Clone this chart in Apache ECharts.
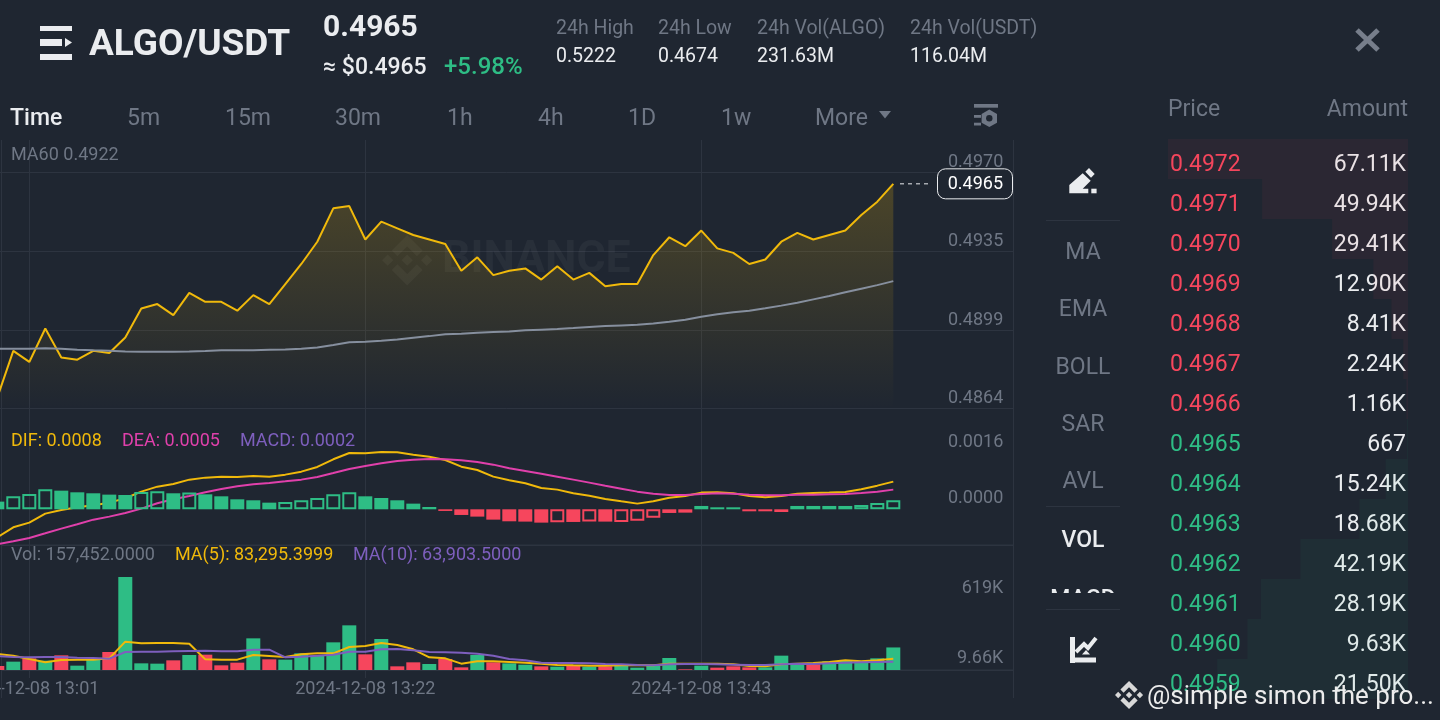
<!DOCTYPE html>
<html>
<head>
<meta charset="utf-8">
<title>ALGO/USDT</title>
<script src="https://cdn.jsdelivr.net/npm/echarts@6/dist/echarts.min.js"></script>
<style>
html, body { margin: 0; padding: 0; background: #1f2631; }
#main { width: 1440px; height: 720px; }
</style>
</head>
<body>
<div id="main"></div>
<script>
// one minute per point, first one is 12:59 and hangs off the left edge
const closePrice = [0.4869, 0.4890, 0.4885, 0.4900, 0.4887, 0.4886, 0.4890, 0.4889, 0.4896, 0.4909, 0.4911, 0.4906, 0.4916, 0.4912, 0.4912, 0.4908, 0.4915, 0.4911, 0.4920, 0.4929, 0.4939, 0.4954, 0.4955, 0.4940, 0.4948, 0.4945, 0.4942, 0.4940, 0.4938, 0.4926, 0.4932, 0.4924, 0.4926, 0.4927, 0.4922, 0.4928, 0.4922, 0.4925, 0.4919, 0.4920, 0.4920, 0.4933, 0.4941, 0.4937, 0.4944, 0.4936, 0.4934, 0.4929, 0.4931, 0.4939, 0.4943, 0.4940, 0.4942, 0.4944, 0.4951, 0.4957, 0.4965];
const ma60 = [0.48909, 0.48909, 0.48909, 0.48911, 0.48909, 0.48905, 0.48902, 0.48900, 0.48897, 0.48896, 0.48896, 0.48896, 0.48897, 0.48899, 0.48902, 0.48902, 0.48903, 0.48905, 0.48906, 0.48909, 0.48915, 0.48926, 0.48938, 0.48941, 0.48945, 0.48951, 0.48959, 0.48966, 0.48974, 0.48977, 0.48981, 0.48984, 0.48987, 0.48992, 0.48995, 0.48998, 0.49002, 0.49007, 0.49011, 0.49014, 0.49017, 0.49023, 0.49031, 0.49040, 0.49053, 0.49064, 0.49073, 0.49080, 0.49091, 0.49103, 0.49116, 0.49131, 0.49146, 0.49163, 0.49179, 0.49195, 0.49213];
const dif = [-0.000795, -0.000511, -0.000379, -0.000123, -0.000019, 0.000057, 0.000114, 0.000189, 0.000313, 0.000502, 0.000644, 0.000720, 0.000843, 0.000900, 0.000928, 0.000919, 0.000947, 0.000928, 0.000985, 0.001070, 0.001203, 0.001421, 0.001600, 0.001591, 0.001629, 0.001619, 0.001553, 0.001496, 0.001402, 0.001212, 0.001117, 0.000928, 0.000824, 0.000739, 0.000606, 0.000559, 0.000455, 0.000388, 0.000294, 0.000227, 0.000161, 0.000227, 0.000331, 0.000379, 0.000474, 0.000483, 0.000455, 0.000379, 0.000341, 0.000379, 0.000445, 0.000464, 0.000474, 0.000492, 0.000568, 0.000672, 0.000786];
const dea = [-0.000994, -0.000909, -0.000814, -0.000682, -0.000549, -0.000426, -0.000294, -0.000208, -0.000104, 0.000019, 0.000170, 0.000284, 0.000379, 0.000483, 0.000578, 0.000653, 0.000710, 0.000748, 0.000795, 0.000843, 0.000919, 0.001032, 0.001146, 0.001231, 0.001307, 0.001373, 0.001411, 0.001430, 0.001421, 0.001392, 0.001345, 0.001269, 0.001165, 0.001089, 0.001013, 0.000928, 0.000843, 0.000758, 0.000672, 0.000587, 0.000502, 0.000445, 0.000407, 0.000407, 0.000436, 0.000455, 0.000445, 0.000417, 0.000398, 0.000398, 0.000417, 0.000417, 0.000426, 0.000436, 0.000464, 0.000502, 0.000559];
const macdHist = [0.000218, 0.000369, 0.000436, 0.000568, 0.000530, 0.000483, 0.000455, 0.000417, 0.000407, 0.000492, 0.000511, 0.000455, 0.000474, 0.000426, 0.000369, 0.000284, 0.000256, 0.000189, 0.000208, 0.000256, 0.000322, 0.000426, 0.000483, 0.000369, 0.000322, 0.000256, 0.000161, 0.000066, -0.000047, -0.000161, -0.000208, -0.000294, -0.000341, -0.000350, -0.000379, -0.000369, -0.000360, -0.000350, -0.000350, -0.000360, -0.000322, -0.000237, -0.000104, -0.000095, 0.000095, 0.000057, 0.000057, -0.000057, -0.000057, -0.000076, 0.000095, 0.000095, 0.000095, 0.000095, 0.000123, 0.000180, 0.000256];
// positions in macdHist drawn as an outline instead of solid
const macdHollow = [1, 2, 3, 9, 10, 12, 18, 19, 20, 21, 22, 35, 37, 39, 40, 41, 42, 54, 55, 56];
const volume = [35900, 64300, 86100, 70800, 105800, 38100, 75200, 127600, 619000, 53300, 51200, 73000, 108000, 110100, 40200, 57700, 217100, 79500, 77400, 118900, 103600, 190900, 302300, 112300, 212800, 33700, 59900, 49000, 81700, 27100, 108000, 59900, 53300, 44600, 33700, 31500, 35900, 31500, 33700, 38100, 25000, 38100, 88300, 14000, 38100, 25000, 33700, 27100, 27100, 103600, 44600, 46800, 66400, 70800, 66400, 86100, 157452];
// 1 = green bar, 0 = red bar
const volumeUp = [0, 1, 0, 1, 0, 1, 1, 0, 1, 1, 1, 0, 1, 0, 0, 0, 1, 0, 1, 1, 1, 1, 1, 0, 1, 0, 0, 1, 0, 0, 1, 0, 1, 1, 0, 1, 0, 1, 0, 1, 1, 1, 1, 0, 1, 0, 0, 0, 1, 1, 1, 0, 1, 1, 1, 1, 1];
const volMa5 = [114500, 103600, 81700, 59900, 75200, 77400, 77400, 86100, 195300, 184400, 186600, 186600, 182200, 79500, 77400, 77400, 108000, 101400, 94800, 112300, 118900, 118900, 160400, 166900, 186600, 173500, 145100, 92700, 86100, 51200, 66400, 66400, 62100, 57700, 51200, 42400, 40200, 38100, 38100, 40200, 40200, 40200, 51200, 51200, 51200, 51200, 46800, 35900, 33700, 46800, 51200, 55500, 62100, 73000, 66400, 73000, 83295];
const volMa10 = [101400, 94800, 92700, 94800, 94800, 90500, 88300, 83900, 127600, 129800, 129800, 132000, 134100, 136300, 132000, 132000, 142900, 142900, 92700, 97000, 103600, 110100, 129800, 129800, 145100, 147300, 138500, 127600, 125400, 123200, 116700, 103600, 81700, 73000, 57700, 55500, 55500, 53300, 49000, 46800, 42400, 40200, 46800, 49000, 49000, 46800, 44600, 42400, 42400, 46800, 51200, 49000, 53300, 57700, 59900, 62100, 63903];

const xTickTimes = ['13:01', '13:22', '13:43'];
const priceTicks = { min: 0.4864, max: 0.4970 };
const volTickLabels = ['9.66K', '619K'];

const bookPrices = ['0.4972', '0.4971', '0.4970', '0.4969', '0.4968', '0.4967', '0.4966', '0.4965', '0.4964', '0.4963', '0.4962', '0.4961', '0.4960', '0.4959'];
const bookAmounts = ['67.11K', '49.94K', '29.41K', '12.90K', '8.41K', '2.24K', '1.16K', '667', '15.24K', '18.68K', '42.19K', '28.19K', '9.63K', '21.50K'];
const askDepth = [171.17, 104.06, 54.12, 24.71, 11.81, 3.40, 1.16, null, null, null, null, null, null, null];
const bidDepth = [null, null, null, null, null, null, null, 0.667, 15.91, 34.59, 76.78, 104.97, 114.60, 136.10];

const tabs = ['Time', '5m', '15m', '30m', '1h', '4h', '1D', '1w', 'More'];
const tabX = [10, 127, 225, 335, 447, 538, 628, 721, 815];
const statNames = ['24h High', '24h Low', '24h Vol(ALGO)', '24h Vol(USDT)'];
const statValues = ['0.5222', '0.4674', '231.63M', '116.04M'];
const statX = [556, 658, 757, 910];
const indicators = ['MA', 'EMA', 'BOLL', 'SAR', 'AVL'];
const indicatorY = [253, 310, 368, 425, 482];

const BG = '#1f2631';
const LINE = '#2d3440';
const GRAY = '#6f7785';
const WHITE = '#eaecef';
const GREEN = '#2ebd85';
const RED = '#f6465d';
const YELLOW = '#f0b90b';
const PINK = '#e040ab';
const PURPLE = '#7e5fbe';
const FONT = 'Roboto, "Noto Sans", sans-serif';
// logo pieces on a 24 unit box
const LOGO_PARTS = [
    [[12, 0], [19.35, 7.34], [16.63, 10.06], [12, 5.42], [7.36, 10.08], [4.64, 7.36]],
    [[12, 24], [4.64, 16.64], [7.36, 13.92], [12, 18.58], [16.63, 13.92], [19.35, 16.64]],
    [[12, 9.28], [14.7, 12], [12, 14.7], [9.27, 12]],
    [[2.72, 9.28], [5.41, 12], [2.72, 14.7], [0, 12]],
    [[21.26, 9.28], [24, 12], [21.28, 14.72], [18.57, 12]]
];

// 64 one minute slots, 16px each, so the axis runs on past the last price
let categories = [];
for (let i = 0; i < 64; i++) {
    let m = 12 * 60 + 59 + i;
    categories.push(Math.floor(m / 60) + ':' + String(m % 60).padStart(2, '0'));
}
const isTick = function (index, value) {
    return xTickTimes.indexOf(value) >= 0;
};

const chartLeft = -10.7;
const chartWidth = 1024;

function panelGrid(top, height) {
    return { left: chartLeft, width: chartWidth, top: top, height: height, outerBoundsMode: 'none' };
}
function hiddenX(gridIndex) {
    return { type: 'category', gridIndex: gridIndex, data: categories, show: false };
}
function bookAxis(list, position, colorFn) {
    return {
        type: 'category',
        gridIndex: 5,
        inverse: true,
        position: position,
        data: list,
        axisLine: { show: false },
        axisTick: { show: false },
        axisLabel: { inside: true, interval: 0, margin: 2, fontFamily: FONT, fontSize: 23, color: colorFn }
    };
}
const axisText = { color: GRAY, fontFamily: FONT, fontSize: 18 };

const option = {
    backgroundColor: BG,
    animation: false,
    grid: [
        panelGrid(140, 538),
        panelGrid(172.7, 236),
        // macd: zero sits at y=509.3, 35187px per 1.0
        panelGrid(396.7, 168.9),
        panelGrid(577, 93),
        { left: 1168, width: 240, top: 139, height: 560, outerBoundsMode: 'none' },
        // book labels sit lower than their depth bars
        { left: 1168, width: 240, top: 145, height: 560, outerBoundsMode: 'none' }
    ],
    xAxis: [
        {
            type: 'category',
            gridIndex: 0,
            data: categories,
            axisLine: { show: false },
            axisTick: { show: false },
            axisLabel: Object.assign({}, axisText, {
                interval: isTick,
                margin: 2,
                formatter: function (v) { return '2024-12-08 ' + v; }
            }),
            splitLine: { show: true, interval: isTick, alignWithLabel: true, lineStyle: { color: LINE, width: 1 } }
        },
        hiddenX(1),
        hiddenX(2),
        hiddenX(3),
        { type: 'value', gridIndex: 4, inverse: true, min: 0, max: 171.17, show: false },
        { type: 'value', gridIndex: 5, show: false }
    ],
    yAxis: [
        { type: 'value', gridIndex: 0, show: false },
        {
            type: 'value',
            gridIndex: 1,
            position: 'right',
            min: priceTicks.min,
            max: priceTicks.max,
            interval: (priceTicks.max - priceTicks.min) / 3,
            axisLine: { show: false },
            axisTick: { show: false },
            splitLine: { show: true, lineStyle: { color: LINE, width: 1 } },
            axisLabel: Object.assign({}, axisText, {
                inside: true,
                margin: 10,
                verticalAlign: 'bottom',
                padding: [0, 0, 1, 0],
                formatter: function (v) { return v.toFixed(4); }
            })
        },
        {
            type: 'value',
            gridIndex: 2,
            position: 'right',
            min: -0.0016,
            max: 0.0032,
            interval: 0.0016,
            axisLine: { show: false },
            axisTick: { show: false },
            splitLine: { show: false },
            axisLabel: Object.assign({}, axisText, {
                inside: true,
                margin: 10,
                verticalAlign: 'bottom',
                padding: [0, 0, 2, 0],
                formatter: function (v) {
                    return (v < -0.0001 || v > 0.002) ? '' : Math.abs(v).toFixed(4);
                }
            })
        },
        {
            type: 'value',
            gridIndex: 3,
            position: 'right',
            min: 9660,
            max: 619000,
            interval: 609340,
            axisLine: { show: false },
            axisTick: { show: false },
            splitLine: { show: false },
            axisLabel: Object.assign({}, axisText, {
                inside: true,
                margin: 10,
                verticalAlign: 'middle',
                verticalAlignMinLabel: 'bottom',
                verticalAlignMaxLabel: 'top',
                padding: [2, 0, 3, 0],
                formatter: function (v) { return v < 100000 ? volTickLabels[0] : volTickLabels[1]; }
            })
        },
        {
            type: 'category',
            gridIndex: 4,
            inverse: true,
            data: bookPrices,
            show: false
        },
        bookAxis(bookPrices, 'left', function (v, i) { return askDepth[i] !== null ? RED : GREEN; }),
        bookAxis(bookAmounts, 'right', WHITE)
    ],
    series: [
        {
            name: 'Price',
            type: 'line',
            xAxisIndex: 1,
            yAxisIndex: 1,
            data: closePrice,
            symbol: 'none',
            z: 4,
            lineStyle: { color: YELLOW, width: 2 },
            areaStyle: {
                origin: 'start',
                color: new echarts.graphic.LinearGradient(0, 0, 0, 1, [
                    { offset: 0, color: 'rgba(240,185,11,0.3)' },
                    { offset: 1, color: 'rgba(240,185,11,0)' }
                ])
            }
        },
        {
            name: 'MA60',
            type: 'line',
            xAxisIndex: 1,
            yAxisIndex: 1,
            data: ma60,
            symbol: 'none',
            z: 5,
            lineStyle: { color: '#868f9e', width: 2 }
        },
        {
            name: 'DIF',
            type: 'line',
            xAxisIndex: 2,
            yAxisIndex: 2,
            data: dif,
            symbol: 'none',
            z: 3,
            lineStyle: { color: YELLOW, width: 2 }
        },
        {
            name: 'DEA',
            type: 'line',
            xAxisIndex: 2,
            yAxisIndex: 2,
            data: dea,
            symbol: 'none',
            z: 3,
            lineStyle: { color: PINK, width: 2 }
        },
        {
            name: 'MACD',
            type: 'bar',
            xAxisIndex: 2,
            yAxisIndex: 2,
            barWidth: 14,
            z: 4,
            data: macdHist.map(function (v, i) {
                let c = v >= 0 ? GREEN : RED;
                let hollow = macdHollow.indexOf(i) >= 0;
                return {
                    value: v,
                    itemStyle: hollow
                        ? { color: 'rgba(0,0,0,0)', borderColor: c, borderWidth: 2 }
                        : { color: c }
                };
            })
        },
        {
            name: 'Vol',
            type: 'bar',
            xAxisIndex: 3,
            yAxisIndex: 3,
            barWidth: 14,
            z: 3,
            data: volume.map(function (v, i) {
                return { value: v, itemStyle: { color: volumeUp[i] ? GREEN : RED } };
            })
        },
        {
            name: 'MA(5)',
            type: 'line',
            xAxisIndex: 3,
            yAxisIndex: 3,
            data: volMa5,
            symbol: 'none',
            z: 4,
            lineStyle: { color: YELLOW, width: 2 }
        },
        {
            name: 'MA(10)',
            type: 'line',
            xAxisIndex: 3,
            yAxisIndex: 3,
            data: volMa10,
            symbol: 'none',
            z: 5,
            lineStyle: { color: PURPLE, width: 2 }
        },
        {
            name: 'Asks',
            type: 'bar',
            xAxisIndex: 4,
            yAxisIndex: 4,
            barWidth: 40,
            barGap: '-100%',
            data: askDepth,
            itemStyle: { color: 'rgba(246,70,93,0.06)' }
        },
        {
            name: 'Bids',
            type: 'bar',
            xAxisIndex: 4,
            yAxisIndex: 4,
            barWidth: 40,
            barGap: '-100%',
            data: bidDepth,
            itemStyle: { color: 'rgba(46,189,133,0.05)' }
        }
    ]
};

const chart = echarts.init(document.getElementById('main'), null, { renderer: 'canvas' });
chart.setOption(option);

function txt(text, x, y, size, fill, extra) {
    return {
        type: 'text',
        z: (extra && extra.z) || 10,
        x: x,
        y: y,
        style: {
            text: text,
            fill: fill,
            font: ((extra && extra.weight) || 'normal') + ' ' + size + 'px ' + FONT,
            align: (extra && extra.align) || 'left',
            verticalAlign: 'middle'
        }
    };
}
function bar(x, y, w, h, fill, z) {
    return { type: 'rect', z: z || 1, shape: { x: x, y: y, width: w, height: h }, style: { fill: fill } };
}
function poly(points, fill, z) {
    return { type: 'polygon', z: z === undefined ? 10 : z, shape: { points: points }, style: { fill: fill } };
}
function stroke(type, points, color, width) {
    return { type: type, z: 10, shape: { points: points }, style: { stroke: color, lineWidth: width, fill: null } };
}
function logo(x, y, scale, fill, z) {
    return LOGO_PARTS.map(function (part) {
        return poly(part.map(function (p) { return [x + p[0] * scale, y + p[1] * scale]; }), fill, z);
    });
}

let els = [];

// header
els.push(bar(40, 26, 32, 5, WHITE, 10), bar(40, 39, 22, 7, WHITE, 10), bar(40, 54, 32, 6, WHITE, 10));
els.push(poly([[65, 38], [72, 42.5], [65, 47]], WHITE));
els.push(txt('ALGO/USDT', 89, 46, 37, WHITE, { weight: 'bold' }));
els.push(txt('0.4965', 323, 28, 30, WHITE, { weight: 'bold' }));
els.push(txt('≈ $0.4965', 323, 68, 23, WHITE, { weight: 500 }));
els.push(txt('+5.98%', 444, 68, 24, GREEN, { weight: 500 }));
statNames.forEach(function (n, i) {
    els.push(txt(n, statX[i], 29, 19.5, GRAY));
    els.push(txt(statValues[i], statX[i], 57, 19.5, WHITE));
});
els.push(stroke('polyline', [[1357, 30], [1378, 50]], '#777e8b', 5));
els.push(stroke('polyline', [[1378, 30], [1357, 50]], '#777e8b', 5));

// time tabs
tabs.forEach(function (n, i) {
    els.push(txt(n, tabX[i], 119, 23, i === 0 ? WHITE : GRAY, i === 0 ? { weight: 500 } : null));
});
els.push(poly([[879, 111], [891, 111], [885, 118.5]], GRAY));
els.push(bar(974, 104, 24, 3.7, GRAY, 10), bar(974, 115, 7, 2.8, GRAY, 10), bar(974, 122.7, 7, 2.8, GRAY, 10));
els.push(poly([[989.3, 109.6], [997, 114], [997, 122.7], [989.3, 127], [981.6, 122.7], [981.6, 114]], GRAY));
els.push({ type: 'circle', z: 11, shape: { cx: 989.3, cy: 118.3, r: 3.2 }, style: { fill: BG } });

// watermark behind the price area
els = els.concat(logo(382, 235, 2.1, 'rgba(255,255,255,0.045)', 0));
els.push(txt('BINANCE', 442, 261, 44.5, 'rgba(255,255,255,0.045)', { weight: 'bold', z: 1 }));

// panel frames
els.push(bar(1, 140, 1, 558, LINE), bar(1013, 140, 1, 558, LINE));
els.push(bar(1, 544.5, 1012, 1.5, LINE), bar(1, 669.5, 1012, 1.5, LINE));

// panel captions
els.push(txt('MA60 0.4922', 11, 155, 18, GRAY));
els.push(txt('DIF: 0.0008', 11, 441, 18, YELLOW));
els.push(txt('DEA: 0.0005', 122, 441, 18, PINK));
els.push(txt('MACD: 0.0002', 240, 441, 18, PURPLE));
els.push(txt('Vol: 157,452.0000', 11, 555, 18, GRAY));
els.push(txt('MA(5): 83,295.3999', 175, 555, 18, YELLOW));
els.push(txt('MA(10): 63,903.5000', 353, 555, 18, PURPLE));

// last price marker, hung off the price scale
let lastY = chart.convertToPixel({ yAxisIndex: 1 }, closePrice[closePrice.length - 1]);
els.push({
    type: 'line', z: 10,
    shape: { x1: 900, y1: lastY, x2: 928, y2: lastY },
    style: { stroke: WHITE, lineWidth: 1, lineDash: [4, 4] }
});
els.push({
    type: 'rect', z: 10,
    shape: { x: 937.5, y: lastY - 15, width: 75, height: 30, r: 8 },
    style: { fill: BG, stroke: WHITE, lineWidth: 1 }
});
els.push(txt('0.4965', 1003, lastY + 1, 18, '#ffffff', { align: 'right', z: 11 }));

// indicator column
els.push(poly([[1069.3, 193.3], [1069.3, 185], [1082.7, 173.3], [1090.7, 180.7], [1082.7, 188.7], [1088.3, 188.7], [1088.3, 193.3]], WHITE));
els.push(poly([[1085.3, 171.7], [1089, 168], [1094.7, 174], [1091, 177.7]], WHITE));
els.push(bar(1091.3, 188.7, 5.3, 4.6, WHITE, 10));
els.push(bar(1046, 220, 74, 1, LINE), bar(1046, 506, 74, 1, LINE), bar(1046, 609, 74, 1, LINE));
indicators.forEach(function (n, i) {
    els.push(txt(n, 1083, indicatorY[i], 23, GRAY, { align: 'center' }));
});
els.push(txt('VOL', 1083, 541, 23, WHITE, { align: 'center', weight: 500 }));
els.push(txt('MACD', 1083, 600, 23, WHITE, { align: 'center', weight: 500 }));
els.push(bar(1046, 593, 74, 15, BG, 12));
els.push(bar(1070, 637, 5, 26, WHITE, 10), bar(1070, 657.5, 26, 5, WHITE, 10));
els.push(stroke('polyline', [[1076, 652], [1084, 644], [1088, 648], [1096, 638]], WHITE, 4));
els.push(poly([[1082, 654.5], [1086, 650], [1090, 654.5]], WHITE));

// order book header
els.push(txt('Price', 1168, 110, 23, GRAY));
els.push(txt('Amount', 1408, 110, 23, GRAY, { align: 'right' }));

// footer tag
els = els.concat(logo(1115, 681, 1.17, '#d8d8d8', 20));
els.push(txt('@simple simon the pro...', 1147, 697, 26, '#ececec', { z: 20 }));

chart.setOption({ graphic: { elements: els } });
</script>
</body>
</html>
